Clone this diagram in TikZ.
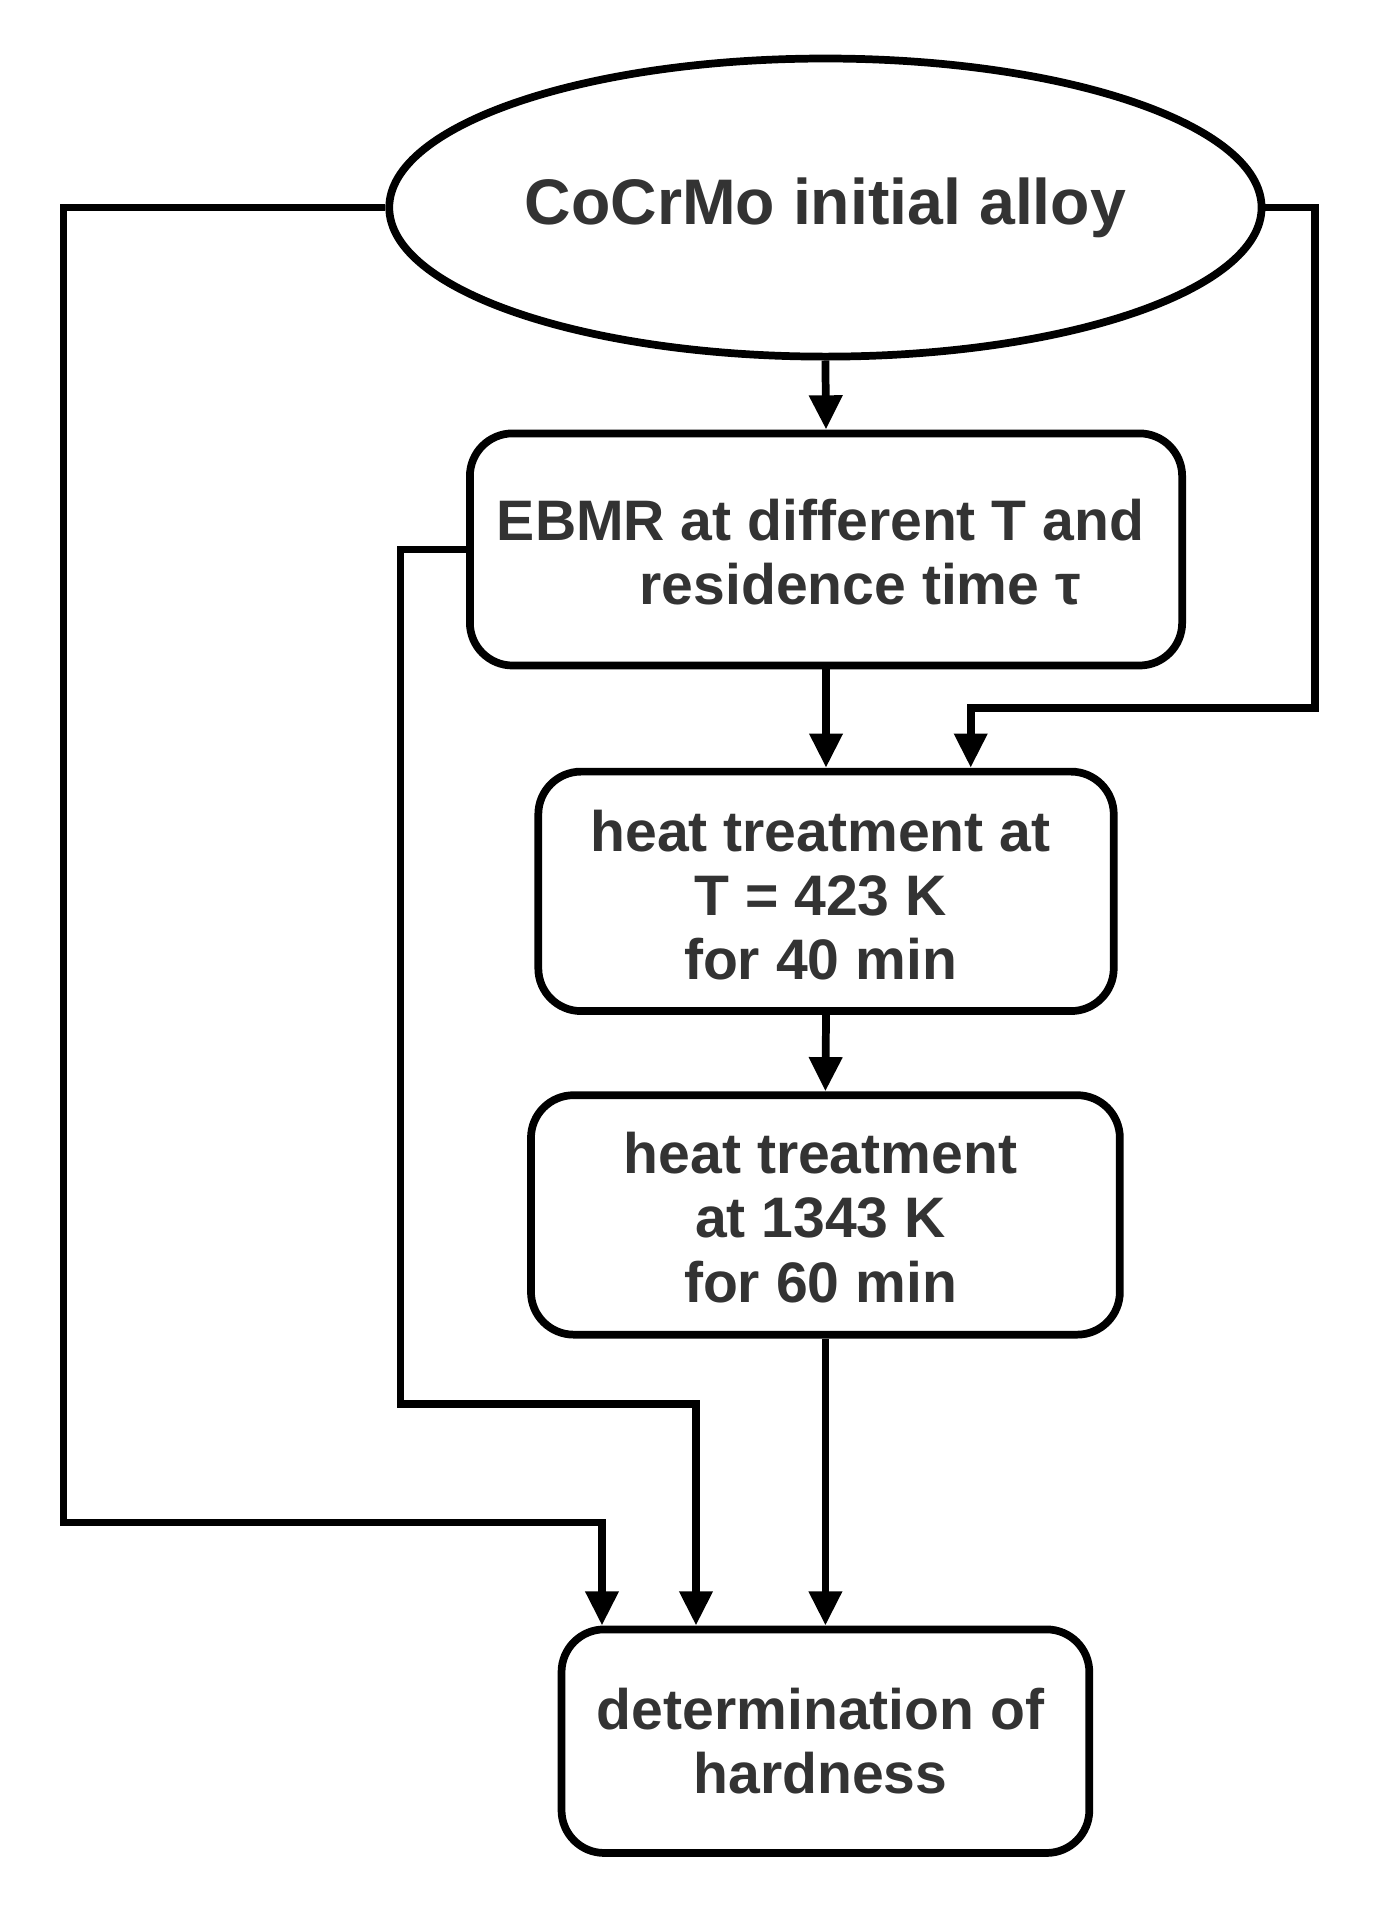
\documentclass[tikz,border=0pt]{standalone}
\usepackage{fontspec}
\setmainfont{Liberation Sans}
\usetikzlibrary{shapes.geometric,arrows.meta}
\begin{document}
\begin{tikzpicture}[x=0.01cm,y=-0.01cm,
  box/.style={draw,line width=1.8pt,rounded corners=0.35cm,inner sep=0pt},
  txt/.style={font=\fontsize{13.3pt}{15pt}\selectfont\bfseries,text=black!80,align=center},
  ln/.style={line width=1.8pt},
  ar/.style={ln,-{Triangle[length=0.28cm,width=0.26cm]}}]
\useasboundingbox (0,0) rectangle (1125,1570);
\node[draw,ellipse,line width=1.8pt,minimum width=7.14cm,minimum height=2.44cm,inner sep=0pt] (e) at (676,170) {};
\node[txt,font=\fontsize{15pt}{18pt}\selectfont\bfseries] (et) at (676,170) {CoCrMo initial alloy};
\node[box,minimum width=5.83cm,minimum height=1.9cm] (b1) at (676.5,450) {};
\node[txt] (b1t) at (672,452) {EBMR at different T and\\ \hspace*{0.65cm}residence time τ};
\node[box,minimum width=4.71cm,minimum height=1.96cm] (b2) at (676.5,730) {};
\node[txt] (b2t) at (672,733) {heat treatment at\\T = 423 K\\for 40 min};
\node[box,minimum width=4.82cm,minimum height=1.96cm] (b3) at (676,995) {};
\node[txt] (b3t) at (672,997) {heat treatment\\at 1343 K\\for 60 min};
\node[box,minimum width=4.32cm,minimum height=1.83cm] (b4) at (676,1426) {};
\node[txt] (b4t) at (672,1426) {determination of\\hardness};
\coordinate (l1) at (52,170); \coordinate (l2) at (52,1247); \coordinate (l3) at (493,1247);
\coordinate (r1) at (1077,170); \coordinate (r2) at (1077,580); \coordinate (r3) at (795,580);
\coordinate (m1) at (328,450); \coordinate (m2) at (328,1150); \coordinate (m3) at (570,1150);
\draw[ar] (e.south) -- (b1.north);
\draw[ar] (b1.south) -- (b2.north);
\draw[ar] (b2.south) -- (b3.north);
\draw[ar] (b3.south) -- (b4.north);
\draw[ar] (e.west) -- (l1) -- (l2) -- (l3) -- (b4.north -| l3);
\draw[ar] (e.east) -- (r1) -- (r2) -- (r3) -- (b2.north -| r3);
\draw[ar] (b1.west) -- (m1) -- (m2) -- (m3) -- (b4.north -| m3);
\end{tikzpicture}
\end{document}
